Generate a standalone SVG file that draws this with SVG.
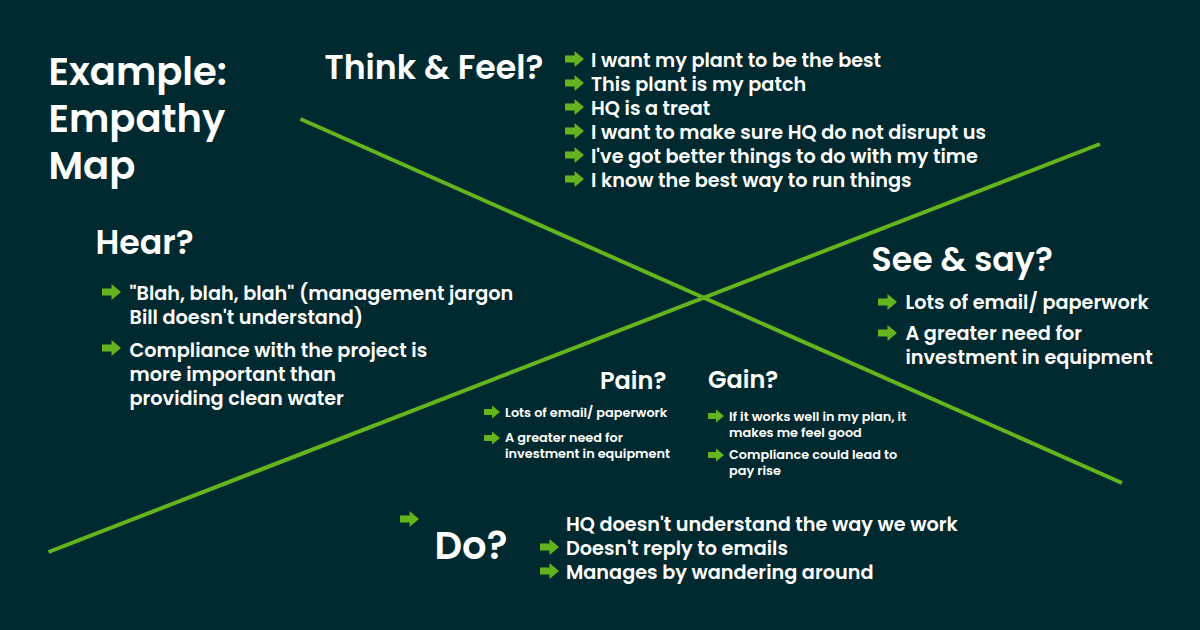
<svg xmlns="http://www.w3.org/2000/svg" width="1200" height="630" viewBox="0 0 1200 630">
<style>
text{font-family:Poppins,"Inter","Noto Sans",sans-serif;fill:#fff;font-weight:600}
.t{font-size:38.5px}
.h{font-size:33.2px}
.m{font-size:24px}
.b{font-size:19.25px}
.s{font-size:12.85px}
.l{stroke:#64b41e;stroke-width:4;fill:none}
.ar{fill:#64b41e}
</style>
<defs><path id="a" d="M0-3.6H9.5V-8L19 0 9.5 8V3.6H0Z"/><path id="c" d="M0-3H8V-6.5L16 0 8 6.5V3H0Z"/></defs>
<rect width="1200" height="630" fill="#012a30"/>
<g id="connectors"><path class="l" d="M300.500 119L1122 483"/><path class="l" d="M48.500 552L1100 144"/></g>
<g id="title"><text class="t" x="48.500" y="85">Example:</text><text class="t" x="48.500" y="132">Empathy</text><text class="t" x="48.500" y="179">Map</text></g>
<g id="think"><text class="h" x="324.500" y="79">Think &amp; Feel?</text>
<text class="b" x="591" y="67">I want my plant to be the best</text><text class="b" x="591" y="91">This plant is my patch</text><text class="b" x="591" y="115">HQ is a treat</text><text class="b" x="591" y="139">I want to make sure HQ do not disrupt us</text><text class="b" x="591" y="163">I've got better things to do with my time</text><text class="b" x="591" y="187">I know the best way to run things</text>
<g class="ar"><use href="#a" x="565" y="59"/><use href="#a" x="565" y="83"/><use href="#a" x="565" y="107"/><use href="#a" x="565" y="131"/><use href="#a" x="565" y="155"/><use href="#a" x="565" y="179"/></g></g>
<g id="hear"><text class="h" x="95.500" y="254">Hear?</text>
<text class="b" x="129.500" y="300">"Blah, blah, blah" (management jargon</text><text class="b" x="129.500" y="324">Bill doesn't understand)</text><text class="b" x="129.500" y="357">Compliance with the project is</text><text class="b" x="129.500" y="381">more important than</text><text class="b" x="129.500" y="405">providing clean water</text>
<g class="ar"><use href="#a" x="102" y="292"/><use href="#a" x="102" y="348"/></g></g>
<g id="see"><text class="h" x="871.500" y="271">See &amp; say?</text>
<text class="b" x="905.500" y="309">Lots of email/ paperwork</text><text class="b" x="905.500" y="340">A greater need for</text><text class="b" x="905.500" y="364">investment in equipment</text>
<g class="ar"><use href="#a" x="878" y="302"/><use href="#a" x="878" y="333"/></g></g>
<g id="pain"><text class="m" x="600" y="389">Pain?</text>
<text class="s" x="505" y="417">Lots of email/ paperwork</text><text class="s" x="505" y="442">A greater need for</text><text class="s" x="505" y="458">investment in equipment</text>
<g class="ar"><use href="#c" x="484" y="412"/><use href="#c" x="484" y="438"/></g></g>
<g id="gain"><text class="m" x="708" y="388">Gain?</text>
<text class="s" x="729" y="421">If it works well in my plan, it</text><text class="s" x="729" y="437">makes me feel good</text><text class="s" x="729" y="459">Compliance could lead to</text><text class="s" x="729" y="475">pay rise</text>
<g class="ar"><use href="#c" x="708" y="416"/><use href="#c" x="708" y="455"/></g></g>
<g id="do"><text class="t" x="434.500" y="559">Do?</text>
<text class="b" x="566" y="531">HQ doesn't understand the way we work</text><text class="b" x="566" y="555">Doesn't reply to emails</text><text class="b" x="566" y="579">Manages by wandering around</text>
<g class="ar"><use href="#a" x="400" y="519"/><use href="#a" x="540" y="547"/><use href="#a" x="540" y="571"/></g></g>
</svg>
